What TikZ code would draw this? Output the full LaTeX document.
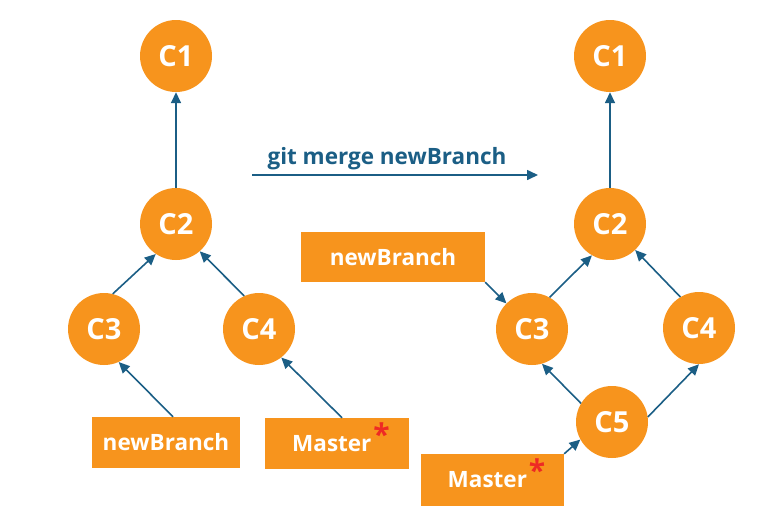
\documentclass[tikz,border=0pt]{standalone}
\usepackage{fontspec}
\setmainfont{Open Sans}
\usetikzlibrary{arrows.meta}
\definecolor{edorange}{HTML}{F7941D}
\definecolor{edblue}{HTML}{1B5E85}
\definecolor{edred}{HTML}{EE2A24}
\newcommand{\mstar}{\hspace{2pt}\raisebox{6pt}[0pt][0pt]{\textcolor{edred}{\fontsize{30}{30}\selectfont *}}}
\begin{document}
\begin{tikzpicture}[x=1pt,y=-1pt,
  commit/.style={circle,fill=edorange,minimum size=72pt,inner sep=0pt,text=white,font=\fontsize{29}{34}\selectfont\bfseries},
  ref/.style={rectangle,fill=edorange,inner sep=0pt,text=white,font=\fontsize{22.5}{27}\selectfont\bfseries},
  link/.style={draw=edblue,line width=1.6pt,-{Triangle[width=10pt,length=11pt]}}]
\useasboundingbox (0,0) rectangle (768,520);
% left graph
\node[commit] (lc1) at (176,56) {C1};
\node[commit] (lc2) at (176,224) {C2};
\node[commit] (lc3) at (104,329) {C3};
\node[commit] (lc4) at (259,329) {C4};
\node[ref,minimum width=148pt,minimum height=51pt] (lnb) at (166,442.5) {newBranch};
\node[ref,minimum width=144pt,minimum height=51pt] (lms) at (337,443.5) {\hspace{8pt}Master\mstar};
\draw[link] (lc2.north) -- (lc1.south);
\draw[link] (lc3.76) -- (lc2.236);
\draw[link] (lc4.114) -- (lc2.311);
\draw[link] ([xshift=7pt]lnb.north) -- (lc3.294);
\draw[link] ([xshift=5pt]lms.north) -- (lc4.308);
% merge arrow
\coordinate (ma) at (252,175);
\coordinate (mb) at (538,175);
\draw[link] (ma) -- (mb) node[midway,above=1pt,text=edblue,font=\fontsize{22.5}{27}\selectfont\bfseries,xshift=-8pt] {git merge newBranch};
% right graph
\node[commit] (rc1) at (610,56) {C1};
\node[commit] (rc2) at (610,224) {C2};
\node[commit] (rc3) at (532,329) {C3};
\node[commit] (rc4) at (699,328) {C4};
\node[commit] (rc5) at (612,422) {C5};
\node[ref,minimum width=184pt,minimum height=50pt] (rnb) at (393,257) {newBranch};
\node[ref,minimum width=143pt,minimum height=52pt] (rms) at (492.5,480) {\hspace{8pt}Master\mstar};
\draw[link] (rc2.north) -- (rc1.south);
\draw[link] (rc3.61) -- (rc2.240);
\draw[link] (rc4.121) -- (rc2.314);
\draw[link] (rc5.149) -- (rc3.286);
\draw[link] (rc5.8) -- (rc4.270);
\draw[link] (rms.north east) -- (rc5.209);
\draw[link] (rnb.south east) -- (rc3.135);
\end{tikzpicture}
\end{document}
